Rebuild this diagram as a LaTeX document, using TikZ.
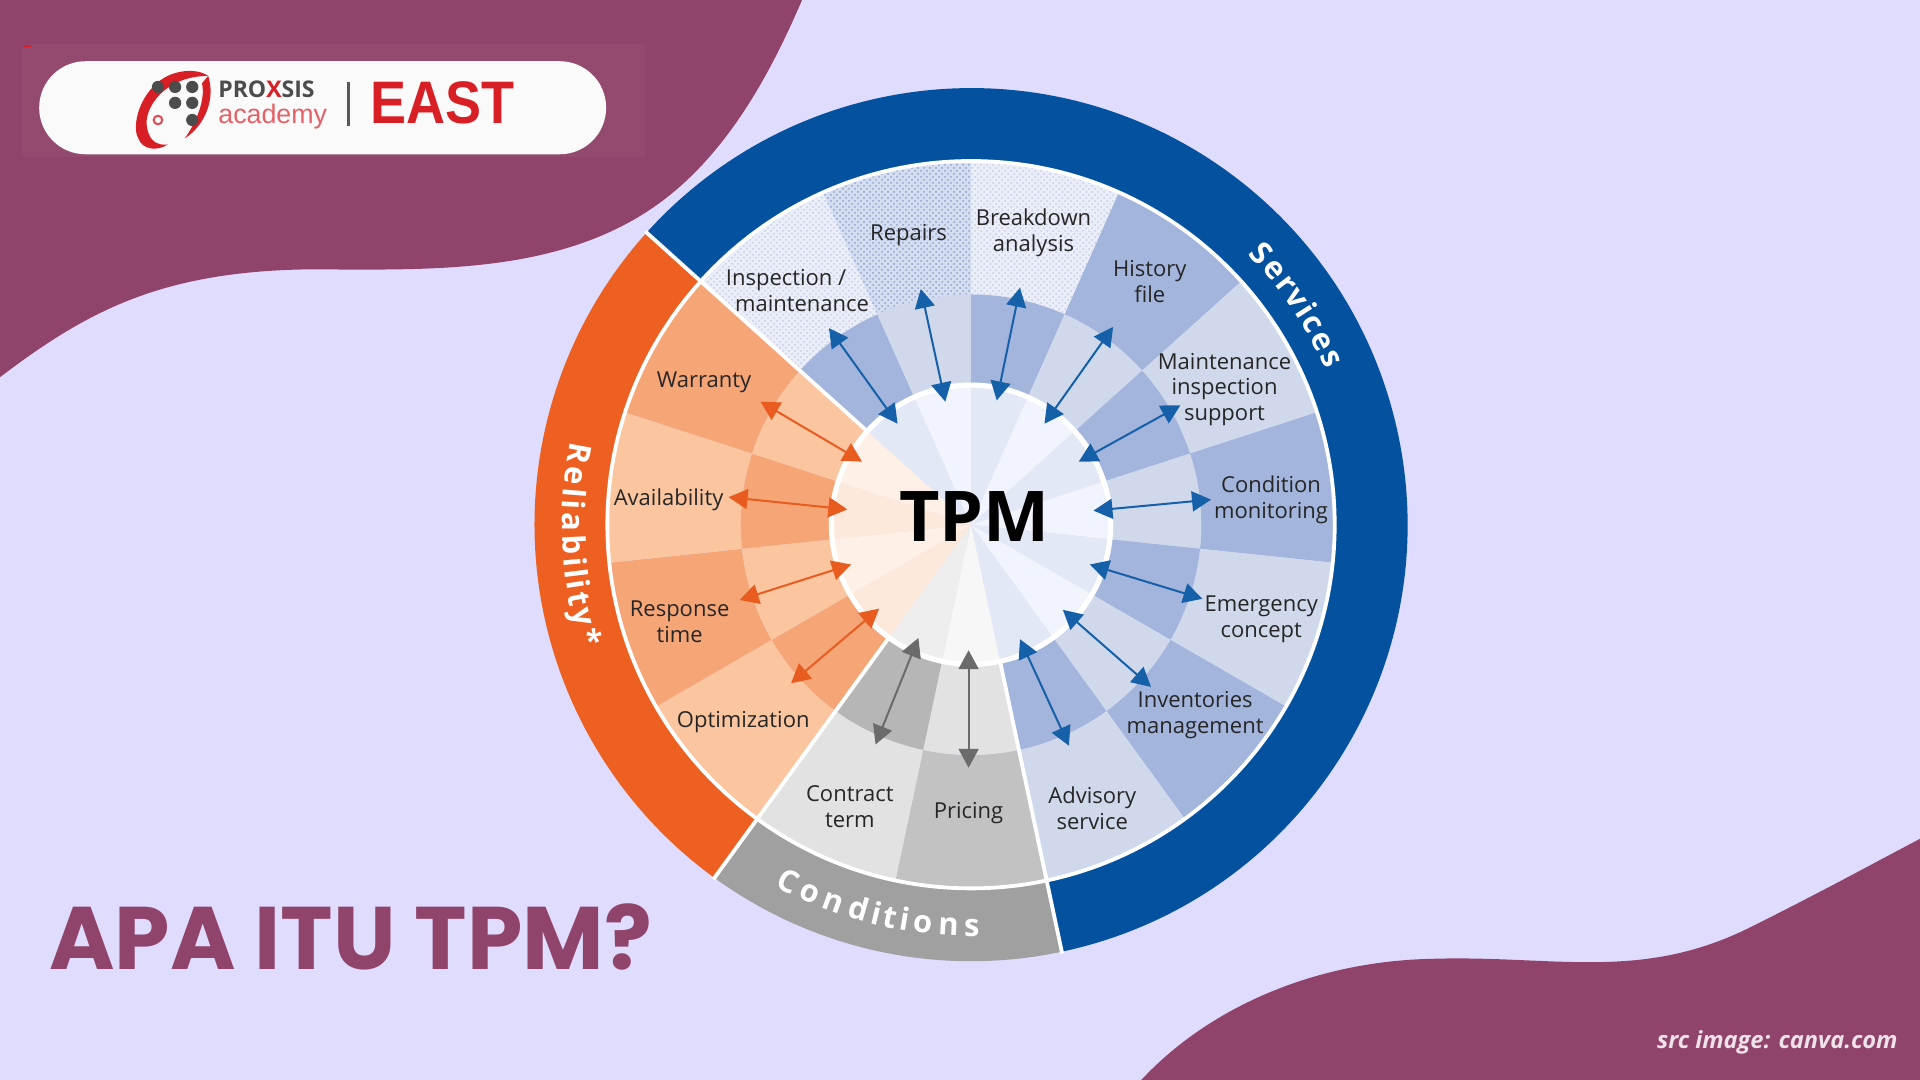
\documentclass[tikz,border=0pt]{standalone}
\usepackage{fontspec}
\usetikzlibrary{arrows.meta,patterns}
\setmainfont{Open Sans}
\newfontfamily\popf{Poppins}
\newfontfamily\libf{Liberation Sans}
\definecolor{bgc}{HTML}{DFDCFE}
\definecolor{maroon}{HTML}{91446B}
\definecolor{ringB}{HTML}{04529F}
\definecolor{ringO}{HTML}{EE6021}
\definecolor{ringG}{HTML}{A0A0A0}
\definecolor{blD}{HTML}{A3B5DC}
\definecolor{blL}{HTML}{D0D9EC}
\definecolor{orD}{HTML}{F6A577}
\definecolor{orL}{HTML}{FBC5A0}
\definecolor{grD}{HTML}{C2C2C2}
\definecolor{grL}{HTML}{E2E2E2}
\definecolor{grM}{HTML}{B6B6B6}
\definecolor{inB}{HTML}{E2E8F6}
\definecolor{inBl}{HTML}{F1F4FC}
\definecolor{inO}{HTML}{FDE9DC}
\definecolor{inOl}{HTML}{FEF0E7}
\definecolor{inG}{HTML}{EEEEEE}
\definecolor{inGl}{HTML}{F7F7F7}
\definecolor{arrB}{HTML}{1560A8}
\definecolor{arrO}{HTML}{E85C20}
\definecolor{arrG}{HTML}{6B6B6B}
\definecolor{logored}{HTML}{D81F26}
\definecolor{dotbaseL}{HTML}{EBEEF8}
\definecolor{dotcolL}{HTML}{C3CEE8}
\definecolor{dotbaseD}{HTML}{D5DDF0}
\definecolor{dotcolD}{HTML}{8FA3D0}
\tikzset{
  lbl/.style={font=\fontsize{11}{12.9}\selectfont,text=black!85,align=center,inner sep=0pt},
  dA/.style={line width=1pt,{Triangle[length=9.5pt,width=10pt]}-{Triangle[length=9.5pt,width=10pt]}},
  whitesep/.style={draw=white,line width=1.9pt},
  dotsL/.style={pattern=crosshatch dots,pattern color=dotcolL,preaction={fill=dotbaseL}},
  dotsD/.style={pattern=crosshatch dots,pattern color=dotcolD,preaction={fill=dotbaseD}},
  sBD/.style={fill=blD}, sBL/.style={fill=blL}, sOD/.style={fill=orD}, sOL/.style={fill=orL},
  sGD/.style={fill=grD}, sGL/.style={fill=grL},
  ringtext/.style={font=\fontsize{15.5}{16}\selectfont\bfseries,text=white,anchor=base,inner sep=0pt},
}
\newcommand{\sect}[5]{\path[#5] (#1:#3) arc[start angle=#1,end angle=#2,radius=#3] -- (#2:#4) arc[start angle=#2,end angle=#1,radius=#4] -- cycle;}
\begin{document}
\begin{tikzpicture}[x=0.61224pt,y=-0.61224pt]
\useasboundingbox (0,0) rectangle (1568,882);
\fill[bgc] (0,0) rectangle (1568,882);
% maroon shapes
\fill[maroon] (0,0) -- (655,0) .. controls (625,70) and (585,140) .. (520,178) .. controls (440,225) and (340,220) .. (250,220) .. controls (130,222) and (70,255) .. (0,308) -- cycle;
\fill[maroon] (932,882) .. controls (985,825) and (1070,785) .. (1170,783) .. controls (1270,780) and (1340,802) .. (1430,757) .. controls (1490,727) and (1530,705) .. (1568,685) -- (1568,882) -- cycle;
% logo
\fill[maroon!97!white] (18,36) rectangle (527,128);
\fill[logored] (19,37) rectangle (25,38.5);
\fill[white!98!black,rounded corners=23.2pt] (32,50) rectangle (495,126);
\fill[logored] (170,62) .. controls (160,55) and (140,57) .. (128,68) .. controls (112,82) and (108,105) .. (113,113) .. controls (116,122) and (128,124) .. (137,118) .. controls (128,119) and (122,115) .. (120,104) .. controls (117,88) and (135,62) .. (170,62) -- cycle;
\fill[logored] (170,62) .. controls (176,80) and (168,102) .. (151,113) .. controls (160,100) and (168,82) .. (165,68) -- cycle;
\foreach \dx/\dy in {129/71,143/71,157/71,143/84,157/84,157/98}{\fill[black!70] (\dx,\dy) circle[radius=5];}
\draw[logored!80,line width=1pt] (129,98) circle[radius=3.5];
\node[font=\fontsize{11.5}{12}\selectfont\bfseries,text=black!70,anchor=west,inner sep=0pt] (proxsis) at (178,73) {PRO{\color{logored}X}SIS};
\node[font=\fontsize{13.4}{14}\selectfont\libf,text=logored!70,anchor=west,inner sep=0pt] (academy) at (178,95) {academy};
\fill[black!65] (283,67) rectangle (286,103);
\node[font=\fontsize{30}{30}\selectfont\libf\bfseries,text=logored,anchor=west,inner sep=0pt,xscale=0.9] (east) at (302,84) {EAST};
% wheel
\begin{scope}[shift={(793,428.5)},y=0.61224pt]
  \sect{138}{-78}{297}{356.5}{fill=ringB}
  \sect{138}{234}{297}{356.5}{fill=ringO}
  \sect{234}{282}{297}{356.5}{fill=ringG}
  \foreach \a/\b/\st/\mc/\ic in {
    138/114/dotsL/blD/inB, 114/90/dotsD/blL/inBl, 90/66/dotsL/blD/inB,
    66/42/sBD/blL/inBl, 42/18/sBL/blD/inB, 18/-6/sBD/blL/inBl,
    -6/-30/sBL/blD/inB, -30/-54/sBD/blL/inBl, -54/-78/sBL/blD/inB,
    -78/-102/sGD/grL/inGl, -102/-126/sGL/grM/inG,
    234/210/sOL/orD/inO, 210/186/sOD/orL/inOl,
    186/162/sOL/orD/inO, 162/138/sOD/orL/inOl}{
    \sect{\a}{\b}{188}{297}{\st}
    \sect{\a}{\b}{114}{188}{fill=\mc}
    \sect{\a}{\b}{0.01}{114}{fill=\ic}
  }
  \draw[whitesep] (0,0) circle[radius=297];
  \draw[draw=white,line width=2.6pt] (0,0) circle[radius=114];
  \foreach \a in {138,234,282}{\draw[whitesep] (\a:114) -- (\a:358);}
  % ring titles, letter by letter
  \foreach \ch/\ang [count=\i] in {S/43.1,e/40.1,r/37.4,v/34.8,i/32.6,c/30.5,e/27.6,s/24.8}{
    \pgfmathsetmacro{\rot}{\ang-90}
    \node[ringtext,rotate=\rot] (sv\i) at (\ang:316) {\ch};
  }
  \foreach \ch/\ang [count=\i] in {R/169.7,e/173,l/175.5,i/177.1,a/179.6,b/182.9,i/185.4,l/187.1,i/188.7,t/190.7,y/193.4,*/196.5}{
    \pgfmathsetmacro{\rot}{\ang+90}
    \node[ringtext,rotate=\rot] (rl\i) at (\ang:334) {\ch};
  }
  \foreach \ch/\ang [count=\i] in {C/242.8,o/246.4,n/250,d/253.7,i/256.4,t/258.4,i/260.5,o/263.1,n/266.8,s/270.1}{
    \pgfmathsetmacro{\rot}{\ang+90}
    \node[ringtext,rotate=\rot] (cn\i) at (\ang:336) {\ch};
  }
\end{scope}
% TPM
\node[font=\fontsize{35}{35}\selectfont\bfseries,text=black,inner sep=0pt] (tpm) at (796,422) {TPM};
% labels
\node[lbl] (l1) at (655,237) {Inspection /\hspace*{16pt}\\maintenance};
\node[lbl] (l2) at (742,192) {Repairs};
\node[lbl] (l3) at (844,190) {Breakdown\\analysis};
\node[lbl] (l4) at (939,230) {History\\file};
\node[lbl] (l5) at (1000,318) {Maintenance\\inspection\\support};
\node[lbl] (l6) at (1038,408) {Condition\\monitoring};
\node[lbl] (l7) at (1030,506) {Emergency\\concept};
\node[lbl] (l8) at (976,584) {Inventories\\management};
\node[lbl] (l9) at (892,660) {Advisory\\service};
\node[lbl] (l10) at (791,664) {Pricing};
\node[lbl] (l11) at (694,659) {Contract\\term};
\node[lbl] (l12) at (607,590) {Optimization};
\node[lbl] (l13) at (555,508) {Response\\time};
\node[lbl] (l14) at (546,408) {Availability};
\node[lbl] (l15) at (575,312) {Warranty};
% arrows
\foreach \n/\ox/\oy/\ix/\iy/\cc in {
  a1/677/268/733/346/arrB, a2/752/236/772/328/arrB, a3/833/235/814/327/arrB,
  a4/909/267/853/346/arrB, a5/964/331/881/377/arrB, a6/989/408/893/417/arrB,
  a7/982/489/890/461/arrB, a8/940/561/868/498/arrB, a9/873/609/833/522/arrB,
  a10/715/608/750/521/arrG, a11/791/627/791/531/arrG,
  a12/621/328/704/377/arrO, a13/595/406/692/416/arrO, a14/604/490/695/461/arrO, a15/646/558/718/497/arrO}{
  \coordinate (\n o) at (\ox,\oy);
  \coordinate (\n i) at (\ix,\iy);
  \draw[dA,draw=\cc,fill=\cc] (\n o) -- (\n i);
}
% bottom texts
\node[font=\fontsize{44.4}{46}\selectfont\popf\bfseries,text=maroon,anchor=west,inner sep=0pt] (title) at (40,765) {APA ITU TPM?};
\node[font=\fontsize{11.8}{12}\selectfont\bfseries\itshape,text=maroon!15!white,anchor=east,inner sep=0pt] (src) at (1550,851) {src image: canva.com};
\end{tikzpicture}
\end{document}
